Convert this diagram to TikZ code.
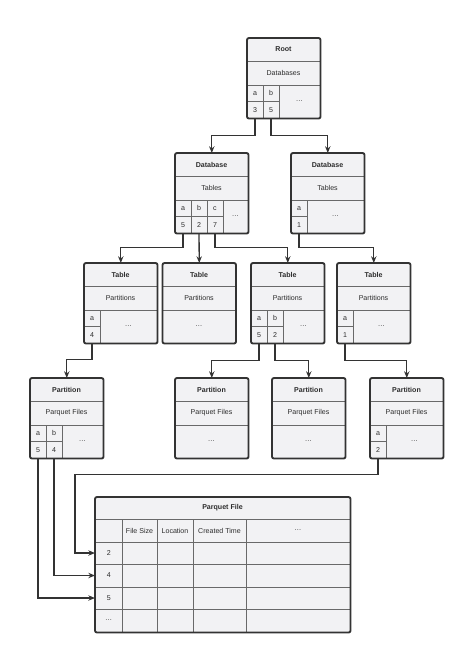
\documentclass[tikz,border=0pt]{standalone}
\usepackage{fontspec}
\setmainfont{Liberation Sans}
\usetikzlibrary{positioning}
\usetikzlibrary{calc}
\usetikzlibrary{arrows.meta}

\definecolor{boxFill}{RGB}{242,242,244}
\definecolor{boxLine}{RGB}{51,51,51}
\definecolor{lineGray}{RGB}{105,105,105}
\definecolor{textDark}{RGB}{45,45,45}

% #1 name, #2/#3 top left (px), #4 title, #5 list name, #6 number of keys, #7 key/value pairs
\newcommand{\metaBox}[7]{%
	\node [boxBody] (#1) at (#2,#3) {};
	\draw [gridLine] ({#2},{#3+23}) -- ({#2+73},{#3+23});
	\draw [gridLine] ({#2},{#3+47}) -- ({#2+73},{#3+47});
	\node [titleText] (#1-title) at ({#2+36.5},{#3+11.5}) {#4};
	\node [plainText] (#1-list) at ({#2+36.5},{#3+35}) {#5};
	\ifnum #6>0\relax
		\draw [gridLine] ({#2},{#3+63.5}) -- ({#2+16*#6},{#3+63.5});
		\foreach \k/\v [count=\i] in {#7}{
			\node [cellText] (#1-k\i) at ({#2+16*\i-8},{#3+55.25}) {\k};
			\node [cellText] (#1-v\i) at ({#2+16*\i-8},{#3+71.75}) {\v};
			\draw [gridLine] ({#2+16*\i},{#3+47}) -- ({#2+16*\i},{#3+80});
		}
	\fi
	\node [plainText] (#1-more) at ({#2+36.5+8*#6},{#3+63.5}) {\ldots};
	\draw [boxBorder] (#1.north west) rectangle (#1.south east);
}

\begin{document}
\begin{tikzpicture}[x=0.75pt,y=-0.75pt]

\tikzstyle{boxBody}=[rectangle,anchor=north west,inner sep=0pt,minimum width=54.75pt,minimum height=60pt,fill=boxFill,rounded corners=1.5pt];
\tikzstyle{boxBorder}=[draw=boxLine,line width=1.4pt,rounded corners=1.5pt];
\tikzstyle{gridLine}=[draw=lineGray,line width=0.6pt];
\tikzstyle{plainText}=[inner sep=0pt,text=textDark,font=\fontsize{5.3}{6}\selectfont];
\tikzstyle{titleText}=[plainText,font=\fontsize{5.3}{6}\selectfont\bfseries];
\tikzstyle{cellText}=[plainText,minimum width=12pt,minimum height=12.375pt];
\tikzstyle{rowText}=[plainText,minimum width=20.25pt,minimum height=16pt];
\tikzstyle{link}=[draw=boxLine,line width=1pt,-{Stealth[length=5pt,width=4pt]}];

\useasboundingbox [fill=white] (0,0) rectangle (474,672);

% catalog levels
\metaBox{root}{247}{38}{Root}{Databases}{2}{a/3,b/5}

\metaBox{db1}{175}{153}{Database}{Tables}{3}{a/5,b/2,c/7}
\metaBox{db2}{291}{153}{Database}{Tables}{1}{a/1}

\metaBox{tab1}{84}{263}{Table}{Partitions}{1}{a/4}
\metaBox{tab2}{162.5}{263}{Table}{Partitions}{0}{}
\metaBox{tab3}{251}{263}{Table}{Partitions}{2}{a/5,b/2}
\metaBox{tab4}{337}{263}{Table}{Partitions}{1}{a/1}

\metaBox{part1}{30}{378}{Partition}{Parquet Files}{2}{a/5,b/4}
\metaBox{part2}{175}{378}{Partition}{Parquet Files}{0}{}
\metaBox{part3}{272}{378}{Partition}{Parquet Files}{0}{}
\metaBox{part4}{370}{378}{Partition}{Parquet Files}{1}{a/2}

% parquet file table
\node [boxBody,minimum width=191.25pt,minimum height=101.25pt] (pq) at (95,497) {};
\foreach \y in {519,542,564,587,609}{
	\draw [gridLine] (95,\y) -- (350,\y);
};
\foreach \x in {122,157,193,246}{
	\draw [gridLine] (\x,519) -- (\x,632);
};
\node [titleText] (pq-title) at (222.5,508) {Parquet File};
\foreach \t/\x [count=\i] in {File Size/139.5,Location/175,Created Time/219.5,\ldots/298}{
	\node [plainText] (pq-c\i) at (\x,530.5) {\t};
};
\foreach \r/\y [count=\i] in {2/553,4/575.5,5/598,\ldots/620.5}{
	\node [rowText,anchor=west] (pq-r\i) at (95,\y) {\r};
};
\draw [boxBorder] (pq.north west) rectangle (pq.south east);

% links
\draw [link] (root-v1.south) -- ++(0,17) -| (db1.north);
\draw [link] (root-v2.south) -- ++(0,17) -| (db2.north);

\draw [link] (db1-v1.south) -- ++(0,14) -| (tab1.north);
\draw [link] (db1-v2.south) -- (tab2.north);
\draw [link] (db1-v3.south) -- ++(0,14) -| (tab3.north);
\draw [link] (db2-v1.south) -- ++(0,14) -| (tab4.north);

\draw [link] (tab1-v1.south) -- ++(0,16) -| (part1.north);
\draw [link] (tab3-v1.south) -- ++(0,17) -| (part2.north);
\draw [link] (tab3-v2.south) -- ++(0,17) -| (part3.north);
\draw [link] (tab4-v1.south) -- ++(0,17) -| (part4.north);

\coordinate (pq-in) at ($(pq-r1.west)+(-20,0)$);
\draw [link] (part4-v1.south) -- ++(0,16) -| (pq-in) -- (pq-r1.west);
\draw [link] (part1-v2.south) |- (pq-r2.west);
\draw [link] (part1-v1.south) |- (pq-r3.west);

\end{tikzpicture}
\end{document}
